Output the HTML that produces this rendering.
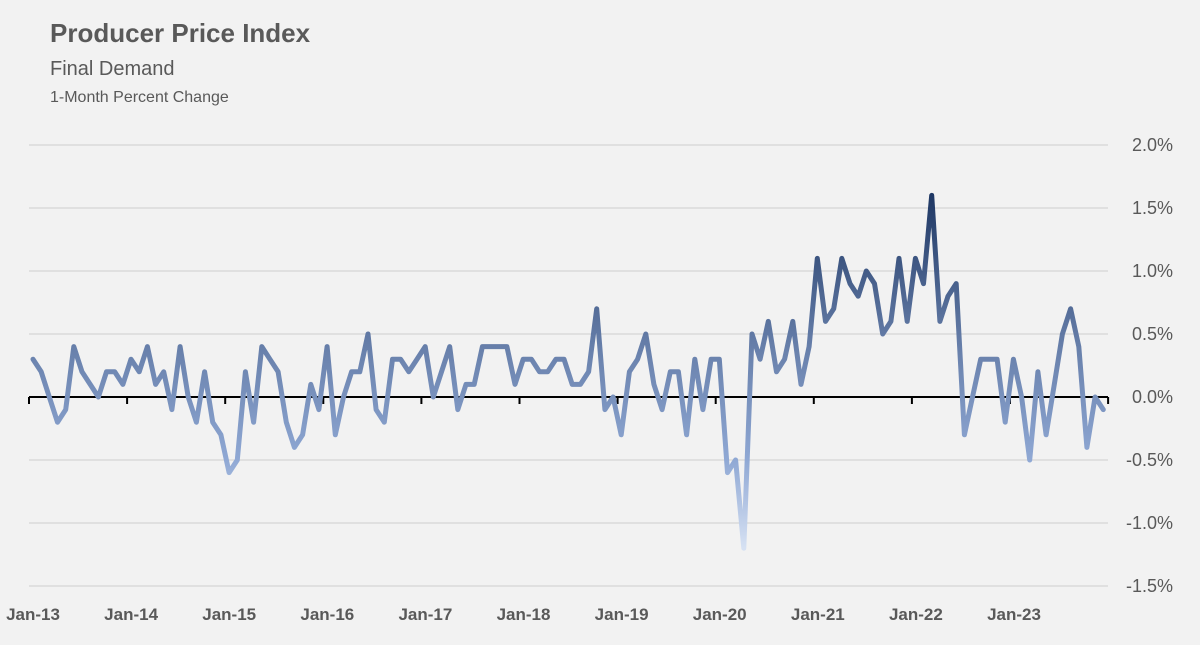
<!DOCTYPE html>
<html><head><meta charset="utf-8"><style>
html,body{margin:0;padding:0;background:#f2f2f2;}
body{width:1200px;height:645px;overflow:hidden;font-family:"Liberation Sans",sans-serif;}
</style></head><body>
<svg id="s" width="1200" height="645" xmlns="http://www.w3.org/2000/svg" style="position:absolute;left:0;top:0">
<defs><linearGradient id="g" gradientUnits="userSpaceOnUse" x1="0" y1="195" x2="0" y2="548">
<stop offset="0" stop-color="#1f3864"/><stop offset="0.45" stop-color="#6a82ad"/><stop offset="0.75" stop-color="#8fa8d4"/><stop offset="1" stop-color="#d6e1f3"/></linearGradient></defs>
<rect width="1200" height="645" fill="#f2f2f2"/>
<text x="50" y="42" font-size="26" font-weight="bold" fill="#595959">Producer Price Index</text>
<text x="50" y="75" font-size="20" fill="#595959">Final Demand</text>
<text x="50" y="102" font-size="16" fill="#595959">1-Month Percent Change</text>
<g id="grid" stroke="#d9d9d9" stroke-width="1.5"></g>
<g id="yl" font-size="18" fill="#595959" text-anchor="end"></g>
<g id="xl" font-size="17" font-weight="bold" fill="#595959" text-anchor="middle"></g>
<line x1="29" y1="397" x2="1108" y2="397" stroke="#000" stroke-width="2"/>
<g id="tk" stroke="#000" stroke-width="2"></g>
<polyline id="ln" fill="none" stroke="url(#g)" stroke-width="5" stroke-linejoin="round" stroke-linecap="round"/>
</svg>
<script>
var d=[0.3,0.2,0.0,-0.2,-0.1,0.4,0.2,0.1,0.0,0.2,0.2,0.1,
0.3,0.2,0.4,0.1,0.2,-0.1,0.4,0.0,-0.2,0.2,-0.2,-0.3,
-0.6,-0.5,0.2,-0.2,0.4,0.3,0.2,-0.2,-0.4,-0.3,0.1,-0.1,
0.4,-0.3,0.0,0.2,0.2,0.5,-0.1,-0.2,0.3,0.3,0.2,0.3,
0.4,0.0,0.2,0.4,-0.1,0.1,0.1,0.4,0.4,0.4,0.4,0.1,
0.3,0.3,0.2,0.2,0.3,0.3,0.1,0.1,0.2,0.7,-0.1,0.0,
-0.3,0.2,0.3,0.5,0.1,-0.1,0.2,0.2,-0.3,0.3,-0.1,0.3,
0.3,-0.6,-0.5,-1.2,0.5,0.3,0.6,0.2,0.3,0.6,0.1,0.4,
1.1,0.6,0.7,1.1,0.9,0.8,1.0,0.9,0.5,0.6,1.1,0.6,
1.1,0.9,1.6,0.6,0.8,0.9,-0.3,0.0,0.3,0.3,0.3,-0.2,
0.3,0.0,-0.5,0.2,-0.3,0.1,0.5,0.7,0.4,-0.4,0.0,-0.1];
var NS="http://www.w3.org/2000/svg";
function el(p,t,a,tx){var e=document.createElementNS(NS,t);for(var k in a)e.setAttribute(k,a[k]);if(tx!==undefined)e.textContent=tx;document.getElementById(p).appendChild(e);}
function Y(v){return 397-v*126;}
var vals=[2.0,1.5,1.0,0.5,-0.5,-1.0,-1.5];
vals.forEach(function(v){el("grid","line",{x1:29,x2:1108,y1:Y(v),y2:Y(v)});});
[2.0,1.5,1.0,0.5,0.0,-0.5,-1.0,-1.5].forEach(function(v){el("yl","text",{x:1173,y:Y(v)+6},v.toFixed(1)+"%");});
for(var i=0;i<=11;i++){var x=29+i*98.1;el("tk","line",{x1:x,x2:x,y1:397,y2:404});}
var yrs=["Jan-13","Jan-14","Jan-15","Jan-16","Jan-17","Jan-18","Jan-19","Jan-20","Jan-21","Jan-22","Jan-23"];
yrs.forEach(function(t,i){el("xl","text",{x:33+i*98.1,y:620},t);});
document.getElementById("ln").setAttribute("points",d.map(function(v,i){return (33+i*8.17).toFixed(1)+","+Y(v).toFixed(1);}).join(" "));
</script>
</body></html>
